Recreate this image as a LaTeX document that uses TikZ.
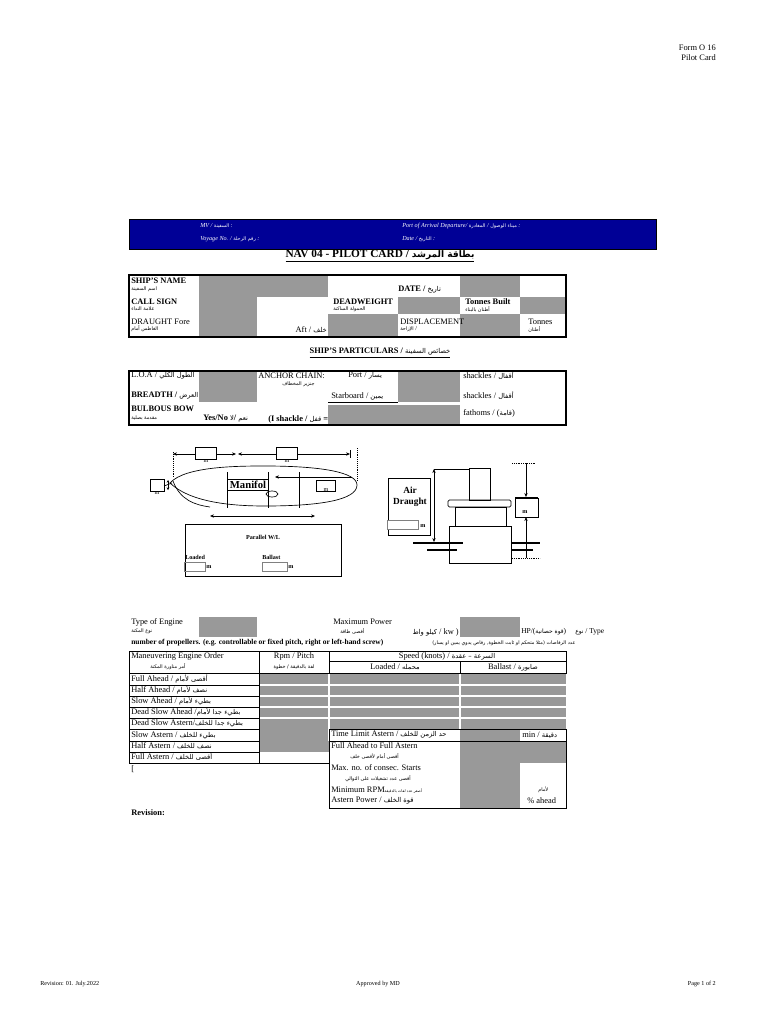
\documentclass[tikz,border=0pt]{standalone}
\usepackage{fontspec}
\setmainfont{Liberation Serif}
\newfontfamily\arabicfont[Script=Arabic,Scale=0.8]{DejaVu Sans}
\TeXXeTstate=1
\usetikzlibrary{arrows.meta}
\newcommand\ar[1]{{\arabicfont\upshape\mdseries\beginR #1\endR}}
\newcommand\fa{\fontsize{6.3}{7}\selectfont}
\newcommand\fb{\fontsize{4.6}{5}\selectfont}
\definecolor{cg}{RGB}{153,153,153}
\definecolor{cb}{RGB}{0,0,150}
\tikzset{
 t/.style={inner sep=0pt,anchor=west,font=\fa},
 ts/.style={inner sep=0pt,anchor=west,font=\fb},
 tb/.style={inner sep=0pt,anchor=west,font=\fa\bfseries},
 wt/.style={inner sep=0pt,anchor=west,font=\fb\itshape,text=white},
 gr/.style={fill=cg},
 ln/.style={line width=0.5pt},
 bx/.style={line width=0.9pt},
 dot/.style={densely dotted,line width=0.4pt},
 ar/.style={-{Stealth[length=3pt,width=2.5pt]},line width=0.4pt},
}
\begin{document}
\begin{tikzpicture}[x=0.75pt,y=-0.75pt]
\useasboundingbox[fill=white] (0,0) rectangle (768,1024);
% header
\node[t,anchor=east] (f1) at (716,48) {Form O 16};
\node[t,anchor=east] (f2) at (716,58) {Pilot Card};
\fill[cb] (129,219) rectangle (656,249);
\draw[line width=0.6pt] (129,219) rectangle (656,249);
\node[wt] (b1) at (200,226) {MV / \ar{السفينة} :};
\node[wt] (b2) at (200,239) {Voyage No. / \ar{رقم الرحلة} :};
\node[wt] (b3) at (402,226) {Port of Arrival Departure/ \ar{المغادرة} / \ar{ميناء الوصول} :};
\node[wt] (b4) at (402,239) {Date / \ar{التاريخ} :};
\node[inner sep=0pt,font=\fontsize{8.5}{9}\selectfont\bfseries] (ttl) at (380,256) {\underline{NAV 04 - PILOT CARD / {\arabicfont\bfseries\beginR بطاقة المرشد\endR}}};
% table 1
\fill[cg] (199,275) rectangle (328,297);
\fill[cg] (460,275) rectangle (520,297);
\fill[cg] (199,297) rectangle (257,337);
\fill[cg] (398,297) rectangle (460,314);
\fill[cg] (520,297) rectangle (566,314);
\fill[cg] (328,314) rectangle (398,337);
\fill[cg] (460,314) rectangle (520,337);
\draw[bx] (129,275) rectangle (566,337);
\node[tb] (s1) at (131,281) {SHIP'S NAME};
\node[ts] (s2) at (131,289) {\ar{اسم السفينة}};
\node[tb] (s3) at (398,290) {DATE / \ar{تاريخ}};
\node[tb] (s4) at (131,302) {CALL SIGN};
\node[ts] (s5) at (131,309) {\ar{علامة النداء}};
\node[tb] (s6) at (333,302) {DEADWEIGHT};
\node[ts] (s7) at (333,309) {\ar{الحمولة الساكنة}};
\node[tb] (s8) at (465,302) {Tonnes Built};
\node[ts] (s9) at (465,309) {\ar{أطنان بالبناء}};
\node[t] (s10) at (131,322) {DRAUGHT Fore};
\node[ts] (s11) at (131,329) {\ar{الغاطس أمام}};
\node[t,anchor=east] (s12) at (327,330) {Aft / \ar{خلف}};
\node[t] (s13) at (400,322) {DISPLACEMENT};
\node[ts] (s14) at (400,329) {\ar{الإزاحة} /};
\node[t] (s15) at (528,322) {Tonnes};
\node[ts] (s16) at (528,329) {\ar{أطنان}};
% ship's particulars
\node[inner sep=0pt,font=\fa\bfseries] (sp) at (380,353) {\underline{SHIP'S PARTICULARS / \ar{خصائص السفينة}}};
\fill[cg] (199,371) rectangle (257,402);
\fill[cg] (398,371) rectangle (460,402);
\fill[cg] (328,405) rectangle (460,425);
\draw[ln] (328,402) -- (398,402);
\draw[bx] (129,371) rectangle (566,425);
\node[t] (p1) at (131,376) {L.O.A / \ar{الطول الكلي}};
\node[t] (p2) at (258,376) {ANCHOR CHAIN:};
\node[ts] (p3) at (282,384) {\ar{جنزير المخطاف}};
\node[t] (p4) at (348,376) {Port / \ar{يسار}};
\node[t] (p5) at (463,376) {shackles / \ar{أقفال}};
\node[tb] (p6) at (131,396) {BREADTH / \ar{العرض}};
\node[t] (p7) at (331,396) {Starboard / \ar{يمين}};
\node[t] (p8) at (463,396) {shackles / \ar{أقفال}};
\node[tb] (p9) at (131,409) {BULBOUS BOW};
\node[ts] (p10) at (131,418) {\ar{مقدمة بصلية}};
\node[tb] (p11) at (203,419) {Yes/No \ar{لا}/ \ar{نعم}};
\node[tb] (p12) at (268,419) {(I shackle / \ar{قفل} =};
\node[t] (p13) at (463,413) {fathoms / (\ar{قامة})};
% ship plan
\draw[ln] (170,483) .. controls (185,466) and (240,466) .. (265,466) .. controls (320,466) and (357,472) .. (357,485) .. controls (357,500) and (320,506) .. (265,506) .. controls (230,506) and (190,502) .. (170,483);
\draw[ln] (172,483) -- (164,486);
\draw[ln] (173,481) .. controls (180,500) and (195,505) .. (210,507);
\draw[dot] (173,452) -- (173,478);
\draw[dot] (357,448) -- (357,480);
\draw[ar] (196,454) -- (173,454);
\draw[ar] (217,454) -- (236,454);
\draw[ar] (277,454) -- (238,454);
\draw[ar] (298,454) -- (350,454);
\draw[ln] (350,450) -- (350,458);
\node[draw,ln,minimum width=21pt*0.75,minimum height=12pt*0.75,inner sep=0pt] (m1) at (206,453) {};
\node[draw,ln,minimum width=21pt*0.75,minimum height=12pt*0.75,inner sep=0pt] (m2) at (287,453) {};
\node[ts,anchor=north] (m1t) at (m1.south) {m};
\node[ts,anchor=north] (m2t) at (m2.south) {m};
\draw[ln] (227,472) -- (227,508);
\draw[ln] (268,472) -- (268,508);
\draw[ln] (299,472) -- (299,508);
\node[draw,ln,fill=white,minimum width=41pt*0.75,minimum height=11pt*0.75,inner sep=0pt,font=\fontsize{8}{9}\selectfont\bfseries] (mf) at (248,485) {Manifol};
\draw[ln] (272,494) ellipse [x radius=6,y radius=3];
\draw[ar] (352,477) -- (275,477);
\node[draw,ln,fill=white,minimum width=19pt*0.75,minimum height=11pt*0.75,inner sep=0pt] (m3) at (326,486) {};
\node[ts,anchor=south] (m3t) at (m3.south) {m};
\node[draw,ln,minimum width=14pt*0.75,minimum height=12pt*0.75,inner sep=0pt] (m4) at (157,485) {};
\node[ts,anchor=north] (m4t) at (m4.south) {m};
\draw[{Stealth[length=2pt,width=2pt]}-{Stealth[length=2pt,width=2pt]},line width=0.4pt] (168,480) -- (168,490);
\draw[{Stealth[length=3pt,width=2.5pt]}-{Stealth[length=3pt,width=2.5pt]},line width=0.5pt] (210,516) -- (315,516);
\draw[ln] (185,524) rectangle (341,576);
\node[inner sep=0pt,font=\fb\bfseries] (pw) at (263,537) {Parallel W/L};
\node[inner sep=0pt,anchor=west,font=\fb\bfseries] (ld) at (185,557) {Loaded};
\node[inner sep=0pt,anchor=west,font=\fb\bfseries] (bl) at (262,557) {Ballast};
\draw[line width=0.3pt,draw=gray] (184,562) rectangle (205,571);
\draw[line width=0.3pt,draw=gray] (262,562) rectangle (287,571);
\node[ts,anchor=west] (lm) at (206,567) {\textbf{m}};
\node[ts,anchor=west] (bm) at (288,567) {\textbf{m}};
% side view
\draw[ln] (388,478) rectangle (430,535);
\node[inner sep=0pt,font=\fontsize{7}{8}\selectfont\bfseries] (ad1) at (410,490) {Air};
\node[inner sep=0pt,font=\fontsize{7}{8}\selectfont\bfseries] (ad2) at (410,502) {Draught};
\draw[line width=0.3pt,draw=gray,fill=white] (387,520) rectangle (418,529);
\node[ts] (adm) at (420,526) {\textbf{m}};
\draw[ar] (434,500) -- (434,469);
\draw[ar] (434,500) -- (434,542);
\draw[ln] (434,469) -- (469,469);
\draw[ln] (469,468) rectangle (490,500);
\draw[ln,rounded corners=1pt] (448,500) rectangle (511,507);
\draw[ln] (455,507) rectangle (506,526);
\draw[ln] (449,526) rectangle (511,563);
\draw[line width=0.9pt] (413,543) -- (463,543);
\draw[line width=0.9pt] (427,550) -- (457,550);
\draw[line width=0.9pt] (511,543) -- (540,543);
\draw[line width=0.9pt] (511,550) -- (533,550);
\draw[dot] (512,463) -- (535,463);
\draw[ar] (526,463) -- (526,497);
\draw[ln] (515,498) rectangle (538,517);
\draw[line width=0.8pt] (515,498) -- (538,498);
\node[ts] (rm) at (522,512) {\textbf{m}};
\draw[ar] (526,558) -- (526,517);
\draw[dot] (512,558) -- (540,558);
% engine
\fill[cg] (199,617) rectangle (257,637);
\fill[cg] (460,617) rectangle (520,637);
\node[t] (e1) at (131,622) {Type of Engine};
\node[ts] (e2) at (131,631) {\ar{نوع المكنة}};
\node[t] (e3) at (333,622) {Maximum Power};
\node[ts] (e4) at (340,631) {\ar{أقصى طاقة}};
\node[t,anchor=east] (e5) at (459,632) {\ar{كيلو واط} / kw )};
\node[inner sep=0pt,anchor=west,font=\fontsize{5.6}{6}\selectfont] (e6) at (521,632) {HP/(\ar{قوة حصانية})};
\node[inner sep=0pt,anchor=west,font=\fontsize{5.6}{6}\selectfont] (e7) at (575,632) {\ar{نوع} / Type};
\node[inner sep=0pt,anchor=west,font=\fontsize{5.6}{6}\selectfont\bfseries] (e8) at (131,643) {number of propellers. (e.g. controllable or fixed pitch, right or left-hand screw)};
\node[ts] (e9) at (432,643) {\ar{عدد الرفاصات (مثلا متحكم او ثابت الخطوة, رفاص يدوي يمين او يسار)}};
% speed table
\fill[cg] (259,673) rectangle (329,752);
\fill[cg] (329,673) rectangle (460,729);
\fill[cg] (460,673) rectangle (566,729);
\fill[cg] (460,729) rectangle (520,808);
\fill[cg] (520,741) rectangle (566,763);
\foreach \y in {685,696,707,718} {\draw[white,line width=1pt] (259,\y) -- (566,\y);}
\draw[white,line width=1pt] (460,673) -- (460,729);
\draw[white,line width=1pt] (329,673) -- (329,741);
\draw[ln] (129,651) rectangle (566,673);
\draw[ln] (329,661) -- (566,661);
\draw[ln] (259,651) -- (259,673);
\draw[ln] (329,651) -- (329,673);
\draw[ln] (460,661) -- (460,673);
\foreach \y in {673,685,696,707,718,729,741,752,763} {\draw[ln] (129,\y) -- (259,\y);}
\draw[ln] (129,651) -- (129,763);
\draw[ln] (259,673) -- (259,763);
\draw[ln] (259,763) -- (329,763);
\draw[ln] (329,729) rectangle (566,741);
\draw[ln] (329,741) rectangle (566,808);
\draw[ln] (329,741) -- (329,763);
\node[t] (h1) at (131,656) {Maneuvering Engine Order};
\node[ts] (h2) at (150,667) {\ar{أمر مناورة المكنة}};
\node[inner sep=0pt,font=\fa] (h3) at (294,656) {Rpm / Pitch};
\node[inner sep=0pt,font=\fb] (h4) at (294,667) {\ar{لفة بالدقيقة / خطوة}};
\node[inner sep=0pt,font=\fa] (h5) at (447,656) {Speed (knots) / \ar{السرعة – عقدة}};
\node[inner sep=0pt,font=\fa] (h6) at (395,667) {Loaded / \ar{محمله}};
\node[inner sep=0pt,font=\fa] (h7) at (513,667) {Ballast / \ar{صابورة}};
\node[t] (r1) at (131,679) {Full Ahead / \ar{أقصى لأمام}};
\node[t] (r2) at (131,690) {Half Ahead / \ar{نصف لأمام}};
\node[t] (r3) at (131,701) {Slow Ahead / \ar{بطيء لأمام}};
\node[t] (r4) at (131,712) {Dead Slow Ahead /\ar{بطيء جدا لأمام}};
\node[t] (r5) at (131,723) {Dead Slow Astern/\ar{بطيء جدا للخلف}};
\node[t] (r6) at (131,735) {Slow Astern / \ar{بطيء للخلف}};
\node[t] (r7) at (131,746) {Half Astern / \ar{نصف للخلف}};
\node[t] (r8) at (131,757) {Full Astern / \ar{أقصى للخلف}};
\node[t] (r9) at (331,735) {Time Limit Astern / \ar{حد الزمن للخلف}};
\node[t] (r10) at (522,735) {min / \ar{دقيقة}};
\node[t] (q1) at (331,746) {Full Ahead to Full Astern};
\node[ts] (q2) at (350,757) {\ar{أقصى أمام لأقصى خلف}};
\node[t] (q3) at (331,768) {Max. no. of consec. Starts};
\node[ts] (q4) at (345,779) {\ar{أقصى عدد تشغيلات على التوالي}};
\node[t] (q5) at (331,790) {Minimum RPM\ar{\fontsize{3.5}{4}\selectfont أصغر عدد لفات بالدقيقة}};
\node[ts] (q6) at (538,790) {\ar{لأمام}};
\node[t] (q7) at (331,801) {Astern Power / \ar{قوة الخلف}};
\node[t] (q8) at (527,801) {\% ahead};
\node[t] (br) at (131,769) {[};
\node[tb] (rv) at (131,813) {Revision:};
% footer
\node[ts] (ft1) at (40,984) {Revision: 01. July.2022};
\node[inner sep=0pt,font=\fb] (ft2) at (378,984) {Approved by MD};
\node[ts,anchor=east] (ft3) at (716,984) {Page 1 of 2};
\end{tikzpicture}
\end{document}
